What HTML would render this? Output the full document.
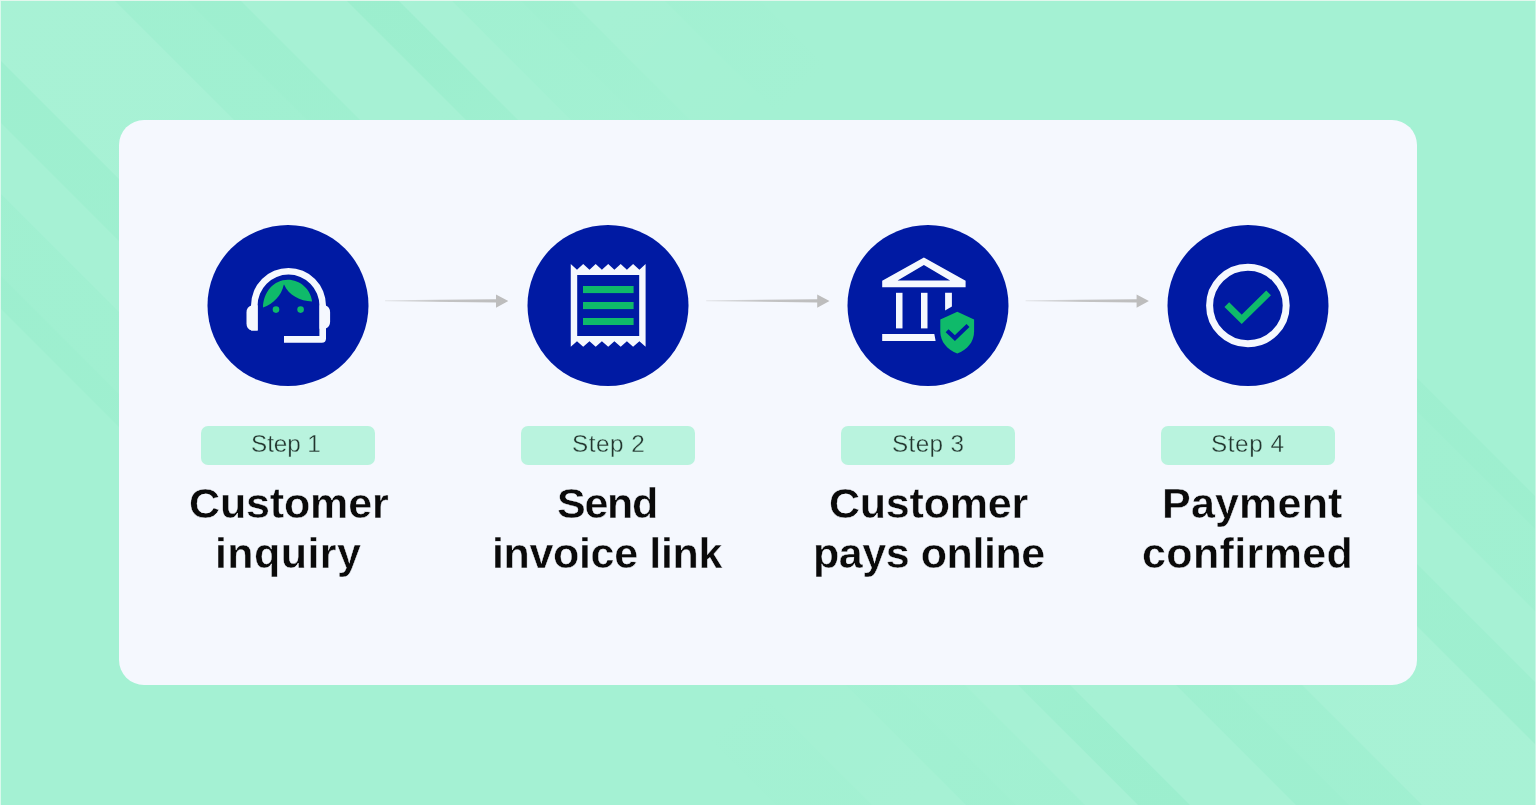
<!DOCTYPE html>
<html>
<head>
<meta charset="utf-8">
<title>Invoice payment flow</title>
<style>
  html, body { margin: 0; padding: 0; }
  body {
    width: 1536px; height: 805px; overflow: hidden; position: relative;
    background: #a4f1d3;
    font-family: "Liberation Sans", sans-serif;
  }
  #bg { position: absolute; left: 0; top: 0; width: 1536px; height: 805px; }
  #card {
    position: absolute; left: 119px; top: 120px; width: 1298px; height: 565px;
    border-radius: 25px; background: #f5f8fe;
  }
  #art { position: absolute; left: 0; top: 0; width: 1536px; height: 805px; }
  .pill {
    position: absolute; top: 425.5px; width: 174px; height: 39.6px;
    border-radius: 7px; background: #b9f3de;
  }
  .pt {
    position: absolute; top: 424.3px; height: 39.2px; line-height: 39.2px; white-space: nowrap;
    color: #22352e; font-size: 24.3px; -webkit-text-stroke: 0.35px #b9f3de;
  }
  .t, .pt { will-change: transform; }
  .t {
    position: absolute; white-space: nowrap; font-weight: bold; font-size: 43px;
    line-height: 50px; height: 50px; color: #0a0a0a; -webkit-text-stroke: 0.4px #f5f8fe;
  }
</style>
</head>
<body>
<svg id="bg" viewBox="0 0 1536 805">
  <defs>
    <linearGradient id="gL" gradientUnits="userSpaceOnUse" x1="0" y1="0" x2="460" y2="460">
      <stop offset="0" stop-color="#ffffff" stop-opacity="1"/>
      <stop offset="0.55" stop-color="#ffffff" stop-opacity="0.75"/>
      <stop offset="1" stop-color="#ffffff" stop-opacity="0"/>
    </linearGradient>
    <linearGradient id="gD" gradientUnits="userSpaceOnUse" x1="0" y1="0" x2="460" y2="460">
      <stop offset="0" stop-color="#5fd9a8" stop-opacity="1"/>
      <stop offset="0.55" stop-color="#5fd9a8" stop-opacity="0.75"/>
      <stop offset="1" stop-color="#5fd9a8" stop-opacity="0"/>
    </linearGradient>
    <g id="stripes">
      <polygon points="-308,0 -275,0 725,1000 692,1000" fill="url(#gD)" opacity="0.110"/>
      <polygon points="-275,0 -193,0 807,1000 725,1000" fill="url(#gD)" opacity="0.060"/>
      <polygon points="-193,0 -122,0 878,1000 807,1000" fill="url(#gL)" opacity="0.027"/>
      <polygon points="-122,0 -60,0 940,1000 878,1000" fill="url(#gD)" opacity="0.090"/>
      <polygon points="-60,0 114,0 1114,1000 940,1000" fill="url(#gL)" opacity="0.045"/>
      <polygon points="114,0 187,0 1187,1000 1114,1000" fill="url(#gD)" opacity="0.060"/>
      <polygon points="187,0 240,0 1240,1000 1187,1000" fill="url(#gD)" opacity="0.095"/>
      <polygon points="240,0 346,0 1346,1000 1240,1000" fill="url(#gL)" opacity="0.032"/>
      <polygon points="346,0 398,0 1398,1000 1346,1000" fill="url(#gD)" opacity="0.140"/>
      <polygon points="398,0 451,0 1451,1000 1398,1000" fill="url(#gL)" opacity="0.045"/>
      <polygon points="451,0 520,0 1520,1000 1451,1000" fill="url(#gD)" opacity="0.050"/>
      <polygon points="520,0 570,0 1570,1000 1520,1000" fill="url(#gD)" opacity="0.085"/>
      <polygon points="570,0 664,0 1664,1000 1570,1000" fill="url(#gL)" opacity="0.041"/>
      <polygon points="664,0 760,0 1760,1000 1664,1000" fill="url(#gD)" opacity="0.045"/>
      <polygon points="760,0 860,0 1860,1000 1760,1000" fill="url(#gL)" opacity="0.013"/>
    </g>
  </defs>
  <rect width="1536" height="805" fill="#a4f1d3"/>
  <use href="#stripes"/>
  <use href="#stripes" transform="rotate(180 768 402.5)"/>
  <!-- faint light edge -->
  <rect x="0" y="0" width="1536" height="1" fill="#e9f7f0" opacity="0.9"/>
  <rect x="0" y="0" width="1" height="805" fill="#e0faf0" opacity="0.9"/>
  <rect x="1535" y="0" width="1" height="805" fill="#d2f8ea" opacity="0.8"/>
</svg>
<div id="card"></div>
<svg id="art" viewBox="0 0 1536 805">
  <!-- circles -->
  <g fill="#001aa3">
    <circle cx="288" cy="305.5" r="80.5"/>
    <circle cx="608" cy="305.5" r="80.5"/>
    <circle cx="928" cy="305.5" r="80.5"/>
    <circle cx="1248" cy="305.5" r="80.5"/>
  </g>

  <!-- icon 1: headset agent -->
  <g>
    <path d="M251 330.6 L251 305.5 A37.5 37.5 0 0 1 326 305.5 L326 338.6 Q326 342.8 321.8 342.8 L284 342.8 L284 335.9 L319.4 335.9 L319.4 305.5 A30.9 30.9 0 0 0 257.6 305.5 L257.6 330.6 Z" fill="#f5f8fe"/>
    <path d="M257.7 305.2 L252 305.2 Q246.5 306.5 246.5 312.5 L246.5 323.5 Q246.5 329.5 252 330.6 L257.7 330.6 Z" fill="#f5f8fe"/>
    <path d="M319.5 305.2 L325 305.2 Q330.1 306.5 330.1 312.5 L330.1 321.5 Q330.1 327.5 325 328.8 L319.5 328.8 Z" fill="#f5f8fe"/>
    <path d="M263 307.6 C263.2 292 274 279.8 287.8 279.8 C300 279.8 310.5 289 312.1 301.4 C300 301.2 288.5 295 284.3 285 L284 284.4 L283.7 285 C281.5 295.5 273.5 303.8 263 307.6 Z" fill="#0fba6a"/>
    <circle cx="276" cy="309.6" r="3.3" fill="#0fba6a"/>
    <circle cx="300.6" cy="309.6" r="3.3" fill="#0fba6a"/>
  </g>
  <!-- icon 2: receipt -->
  <g>
    <path fill="#f5f8fe" fill-rule="evenodd" d="M570.75 264.1 L577 269.8 L583.2 264.1 L589.5 269.8 L595.7 264.1 L601.9 269.8 L608.2 264.1 L614.4 269.8 L620.7 264.1 L626.9 269.8 L633.1 264.1 L639.4 269.8 L645.6 264.1 L645.6 346.8 L639.4 341.2 L633.1 346.8 L626.9 341.2 L620.7 346.8 L614.4 341.2 L608.2 346.8 L601.9 341.2 L595.7 346.8 L589.5 341.2 L583.2 346.8 L577 341.2 L570.75 346.8 Z M577.2 274.9 L577.2 335.9 L639.2 335.9 L639.2 274.9 Z"/>
    <rect x="583" y="286" width="50.6" height="7.1" fill="#0fba6a"/>
    <rect x="583" y="302" width="50.6" height="7.1" fill="#0fba6a"/>
    <rect x="583" y="318" width="50.6" height="7" fill="#0fba6a"/>
  </g>
  <!-- icon 3: bank + shield -->
  <g>
    <path fill="#f5f8fe" fill-rule="evenodd" d="M882.2 287.2 L882.2 280.8 L923.9 257.6 L965.6 280.8 L965.6 287.2 Z M897.6 280.4 L950.1 280.4 L923.9 265.1 Z"/>
    <rect x="896" y="292.8" width="6.5" height="35.6" fill="#f5f8fe"/>
    <rect x="921" y="292.8" width="6.5" height="35.6" fill="#f5f8fe"/>
    <path d="M945.1 292.8 L951.9 292.8 L951.9 306.5 L945.1 310.4 Z" fill="#f5f8fe"/>
    <path d="M882.2 334.1 L934.3 334.1 L935.6 340.9 L882.2 340.9 Z" fill="#f5f8fe"/>
    <path d="M957.3 311.7 L974.1 319.5 L974.1 331.5 C974.1 342 967 350 957.3 353.4 C947.6 350 940.3 342 940.3 331.5 L940.3 319.5 Z" fill="#0fba6a"/>
    <path d="M947.1 330.8 L954.9 338 L968 325.4" fill="none" stroke="#001aa3" stroke-width="4.2"/>
  </g>
  <!-- icon 4: check circle -->
  <g>
    <circle cx="1247.9" cy="305.5" r="38.3" fill="none" stroke="#f5f8fe" stroke-width="7"/>
    <path d="M1226.8 304.7 L1241.7 319.4 L1268.6 292.8" fill="none" stroke="#0fba6a" stroke-width="6.7"/>
  </g>
  <!-- arrows -->
  <defs>
    <linearGradient id="ag" gradientUnits="userSpaceOnUse" x1="385" y1="0" x2="508" y2="0">
      <stop offset="0" stop-color="#bebebe" stop-opacity="0.3"/>
      <stop offset="0.45" stop-color="#bebebe" stop-opacity="0.9"/>
      <stop offset="1" stop-color="#bcbcbc" stop-opacity="1"/>
    </linearGradient>
  </defs>
  <g fill="url(#ag)">
    <path id="arr" d="M385 300.25 L496 299.3 L496 294.4 L508.3 300.9 L496 307.8 L496 302.4 L385 301.25 Z"/>
    <use href="#arr" x="321.2"/>
    <use href="#arr" x="640.6"/>
  </g>
</svg>
<div class="pill" style="left:201.3px"></div>
<div class="pill" style="left:521.3px"></div>
<div class="pill" style="left:841.3px"></div>
<div class="pill" style="left:1161.3px"></div>
<!--PT-->
<div class="pt" style="left:251.20px;letter-spacing:-0.077px">Step 1</div>
<div class="pt" style="left:572.00px;letter-spacing:0.511px">Step 2</div>
<div class="pt" style="left:892.00px;letter-spacing:0.368px">Step 3</div>
<div class="pt" style="left:1210.90px;letter-spacing:0.578px">Step 4</div>
<!--/PT-->
<!--TL-->
<div class="t" style="left:188.90px;top:478.20px;letter-spacing:-0.154px">Customer</div>
<div class="t" style="left:214.95px;top:528.40px;letter-spacing:0.413px">inquiry</div>
<div class="t" style="left:557.45px;top:478.20px;letter-spacing:-1.281px">Send</div>
<div class="t" style="left:492.35px;top:528.40px;letter-spacing:-0.348px">invoice link</div>
<div class="t" style="left:828.50px;top:478.20px;letter-spacing:-0.224px">Customer</div>
<div class="t" style="left:812.54px;top:528.40px;letter-spacing:-0.439px">pays online</div>
<div class="t" style="left:1162.41px;top:478.20px;letter-spacing:0.198px">Payment</div>
<div class="t" style="left:1142.45px;top:528.40px;letter-spacing:0.376px">confirmed</div>
<!--/TL-->
</body>
</html>
